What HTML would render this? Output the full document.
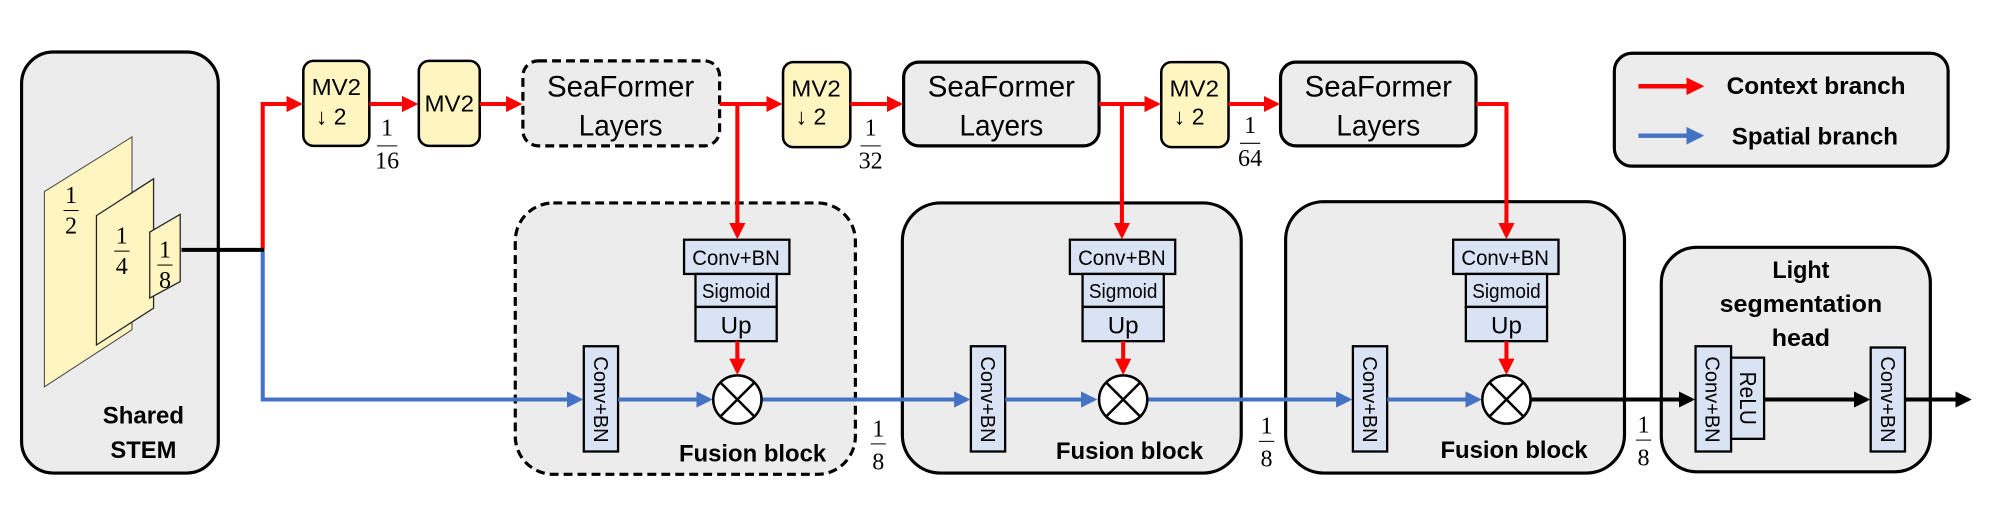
<!DOCTYPE html>
<html><head><meta charset="utf-8"><style>
html,body{margin:0;padding:0;background:#fff;width:1990px;height:520px;overflow:hidden}
svg{display:block}
.c{font-family:"Liberation Sans",sans-serif}
.s{font-family:"Liberation Serif",serif;font-size:19px}
.b{font-weight:bold}
</style></head><body>
<svg width="1990" height="520" viewBox="0 0 1568 410" preserveAspectRatio="none" xmlns="http://www.w3.org/2000/svg">
<defs>
<marker id="ar" markerWidth="4" markerHeight="4" refX="3.2" refY="2" orient="auto" markerUnits="strokeWidth"><path d="M0,0 L4,2 L0,4 z" fill="#ff0000"/></marker>
<marker id="ab" markerWidth="4" markerHeight="4" refX="3.2" refY="2" orient="auto" markerUnits="strokeWidth"><path d="M0,0 L4,2 L0,4 z" fill="#4472c4"/></marker>
<marker id="ak" markerWidth="4" markerHeight="4" refX="3.2" refY="2" orient="auto" markerUnits="strokeWidth"><path d="M0,0 L4,2 L0,4 z" fill="#000"/></marker>
</defs>

<rect x="17" y="41" width="155" height="332" rx="25" fill="#ececec" stroke="#000" stroke-width="2.5"/>
<polygon points="35,151 104,108 104,260 35,305" fill="#fff5c0" stroke="#444" stroke-width="0.8"/>
<polygon points="76,170 121,141 121,243 76,272" fill="#fff5c0" stroke="#222" stroke-width="1"/>
<polygon points="118,183 142,169 142,222 118,235" fill="#fff5c0" stroke="#222" stroke-width="1"/>
<g class="s" text-anchor="middle">
<text x="56" y="160">1</text><line x1="50" y1="166" x2="62" y2="166" stroke="#000" stroke-width="0.8"/><text x="56" y="184">2</text>
<text x="96" y="192">1</text><line x1="90" y1="198" x2="102" y2="198" stroke="#000" stroke-width="0.8"/><text x="96" y="216">4</text>
<text x="130" y="203">1</text><line x1="124" y1="209" x2="136" y2="209" stroke="#000" stroke-width="0.8"/><text x="130" y="227">8</text>
</g>
<text class="c b" x="113" y="334" font-size="19" text-anchor="middle" textLength="64" lengthAdjust="spacingAndGlyphs">Shared</text>
<text class="c b" x="113" y="361" font-size="19" text-anchor="middle" textLength="52" lengthAdjust="spacingAndGlyphs">STEM</text>

<rect x="1272" y="42" width="263" height="89" rx="14" fill="#ececec" stroke="#000" stroke-width="2.5"/>
<line x1="1291" y1="68" x2="1340" y2="68" stroke="#ff0000" stroke-width="3.5" marker-end="url(#ar)"/>
<line x1="1291" y1="107" x2="1340" y2="107" stroke="#4472c4" stroke-width="3.5" marker-end="url(#ab)"/>
<text class="c b" x="1431" y="74" font-size="19" text-anchor="middle" textLength="141" lengthAdjust="spacingAndGlyphs">Context branch</text>
<text class="c b" x="1430" y="114" font-size="19" text-anchor="middle" textLength="131" lengthAdjust="spacingAndGlyphs">Spatial branch</text>

<rect x="406" y="160" width="268" height="214" rx="30" fill="#ececec" stroke="#000" stroke-width="2.5" stroke-dasharray="7,4"/>
<rect x="711" y="160" width="267" height="213" rx="30" fill="#ececec" stroke="#000" stroke-width="2.5"/>
<rect x="1013" y="159" width="267" height="214" rx="30" fill="#ececec" stroke="#000" stroke-width="2.5"/>
<rect x="1309" y="195" width="212" height="177" rx="28" fill="#ececec" stroke="#000" stroke-width="2.5"/>

<g stroke="#000" stroke-width="2">
<rect x="239" y="48" width="52" height="67" rx="8" fill="#fff5c0"/>
<rect x="330" y="48" width="48" height="67" rx="8" fill="#fff5c0"/>
<rect x="617" y="49" width="53" height="67" rx="8" fill="#fff5c0"/>
<rect x="915" y="49" width="53" height="67" rx="8" fill="#fff5c0"/>
<rect x="412" y="48" width="155" height="67" rx="12" fill="#ececec" stroke-dasharray="7,4" stroke-width="2.5"/>
<rect x="712" y="49" width="154" height="66" rx="12" fill="#ececec" stroke-width="2.5"/>
<rect x="1009" y="49" width="154" height="66" rx="12" fill="#ececec" stroke-width="2.5"/>
</g>
<g class="c" font-size="18" text-anchor="middle">
<text x="265" y="75" textLength="39" lengthAdjust="spacingAndGlyphs">MV2</text><text x="261" y="98">↓ 2</text>
<text x="354" y="88" textLength="39" lengthAdjust="spacingAndGlyphs">MV2</text>
<text x="643" y="76" textLength="39" lengthAdjust="spacingAndGlyphs">MV2</text><text x="639" y="98">↓ 2</text>
<text x="941" y="76" textLength="39" lengthAdjust="spacingAndGlyphs">MV2</text><text x="937" y="98">↓ 2</text>
</g>
<g class="c" font-size="23" text-anchor="middle">
<text x="489" y="76" textLength="116" lengthAdjust="spacingAndGlyphs">SeaFormer</text><text x="489" y="107" textLength="66" lengthAdjust="spacingAndGlyphs">Layers</text>
<text x="789" y="76" textLength="116" lengthAdjust="spacingAndGlyphs">SeaFormer</text><text x="789" y="107" textLength="66" lengthAdjust="spacingAndGlyphs">Layers</text>
<text x="1086" y="76" textLength="116" lengthAdjust="spacingAndGlyphs">SeaFormer</text><text x="1086" y="107" textLength="66" lengthAdjust="spacingAndGlyphs">Layers</text>
</g>
<g class="s" text-anchor="middle" font-size="17">
<text x="305" y="107">1</text><line x1="297" y1="115" x2="313" y2="115" stroke="#000" stroke-width="0.8"/><text x="305" y="133">16</text>
<text x="686" y="107">1</text><line x1="678" y1="115" x2="694" y2="115" stroke="#000" stroke-width="0.8"/><text x="686" y="133">32</text>
<text x="985" y="105">1</text><line x1="977" y1="113" x2="993" y2="113" stroke="#000" stroke-width="0.8"/><text x="985" y="131">64</text>
<text x="692" y="344">1</text><line x1="686" y1="350" x2="698" y2="350" stroke="#000" stroke-width="0.8"/><text x="692" y="370">8</text>
<text x="998" y="342">1</text><line x1="992" y1="348" x2="1004" y2="348" stroke="#000" stroke-width="0.8"/><text x="998" y="368">8</text>
<text x="1295" y="341">1</text><line x1="1289" y1="347" x2="1301" y2="347" stroke="#000" stroke-width="0.8"/><text x="1295" y="367">8</text>
</g>

<g stroke="#000" stroke-width="1.8" fill="#dae3f3">
<rect x="539" y="189" width="83" height="27"/><rect x="548" y="216" width="64" height="26"/><rect x="548" y="242" width="64" height="27"/>
<rect x="843" y="189" width="83" height="27"/><rect x="853" y="216" width="64" height="26"/><rect x="853" y="242" width="64" height="27"/>
<rect x="1145" y="189" width="83" height="27"/><rect x="1155" y="216" width="64" height="26"/><rect x="1155" y="242" width="64" height="27"/>
<rect x="460" y="273" width="27" height="83"/>
<rect x="765" y="273" width="27" height="83"/>
<rect x="1066" y="273" width="27" height="83"/>
<rect x="1336" y="273" width="28" height="83"/>
<rect x="1364" y="282" width="26" height="64"/>
<rect x="1474" y="274" width="27" height="82"/>
</g>
<g class="c" text-anchor="middle">
<text x="580" y="209" font-size="17" textLength="69" lengthAdjust="spacingAndGlyphs">Conv+BN</text><text x="580" y="235" font-size="16" textLength="54" lengthAdjust="spacingAndGlyphs">Sigmoid</text><text x="580" y="263" font-size="19">Up</text>
<text x="884" y="209" font-size="17" textLength="69" lengthAdjust="spacingAndGlyphs">Conv+BN</text><text x="885" y="235" font-size="16" textLength="54" lengthAdjust="spacingAndGlyphs">Sigmoid</text><text x="885" y="263" font-size="19">Up</text>
<text x="1186" y="209" font-size="17" textLength="69" lengthAdjust="spacingAndGlyphs">Conv+BN</text><text x="1187" y="235" font-size="16" textLength="54" lengthAdjust="spacingAndGlyphs">Sigmoid</text><text x="1187" y="263" font-size="19">Up</text>
</g>
<g class="c" font-size="16" text-anchor="middle">
<text transform="translate(468,315) rotate(90)" textLength="68" lengthAdjust="spacingAndGlyphs">Conv+BN</text>
<text transform="translate(773,315) rotate(90)" textLength="68" lengthAdjust="spacingAndGlyphs">Conv+BN</text>
<text transform="translate(1074,315) rotate(90)" textLength="68" lengthAdjust="spacingAndGlyphs">Conv+BN</text>
<text transform="translate(1344,315) rotate(90)" textLength="68" lengthAdjust="spacingAndGlyphs">Conv+BN</text>
<text transform="translate(1371,314) rotate(90)" font-size="18" textLength="42" lengthAdjust="spacingAndGlyphs">ReLU</text>
<text transform="translate(1482,315) rotate(90)" textLength="68" lengthAdjust="spacingAndGlyphs">Conv+BN</text>
</g>
<g class="c b" font-size="19" text-anchor="middle">
<text x="593" y="364" textLength="116" lengthAdjust="spacingAndGlyphs">Fusion block</text>
<text x="890" y="362" textLength="116" lengthAdjust="spacingAndGlyphs">Fusion block</text>
<text x="1193" y="361" textLength="116" lengthAdjust="spacingAndGlyphs">Fusion block</text>
<text x="1419" y="219" textLength="45" lengthAdjust="spacingAndGlyphs">Light</text><text x="1419" y="246" textLength="128" lengthAdjust="spacingAndGlyphs">segmentation</text><text x="1419" y="273" textLength="46" lengthAdjust="spacingAndGlyphs">head</text>
</g>

<g fill="none" stroke="#ff0000" stroke-width="3.2">
<polyline points="207,197 207,82 236,82" marker-end="url(#ar)"/>
<line x1="291" y1="82" x2="327" y2="82" marker-end="url(#ar)"/>
<line x1="378" y1="82" x2="409" y2="82" marker-end="url(#ar)"/>
<line x1="567" y1="82" x2="614" y2="82" marker-end="url(#ar)"/>
<line x1="581" y1="82" x2="581" y2="186" marker-end="url(#ar)"/>
<line x1="670" y1="82" x2="709" y2="82" marker-end="url(#ar)"/>
<line x1="866" y1="82" x2="912" y2="82" marker-end="url(#ar)"/>
<line x1="884" y1="82" x2="884" y2="186" marker-end="url(#ar)"/>
<line x1="968" y1="82" x2="1006" y2="82" marker-end="url(#ar)"/>
<polyline points="1163,82 1187,82 1187,186" marker-end="url(#ar)"/>
<line x1="581" y1="269" x2="581" y2="293" marker-end="url(#ar)"/>
<line x1="885" y1="269" x2="885" y2="293" marker-end="url(#ar)"/>
<line x1="1187" y1="269" x2="1187" y2="293" marker-end="url(#ar)"/>
</g>
<g fill="none" stroke="#4472c4" stroke-width="3.2">
<polyline points="207,197 207,315 457,315" marker-end="url(#ab)"/>
<line x1="487" y1="315" x2="559" y2="315" marker-end="url(#ab)"/>
<line x1="600" y1="315" x2="762" y2="315" marker-end="url(#ab)"/>
<line x1="792" y1="315" x2="862" y2="315" marker-end="url(#ab)"/>
<line x1="904" y1="315" x2="1063" y2="315" marker-end="url(#ab)"/>
<line x1="1093" y1="315" x2="1165" y2="315" marker-end="url(#ab)"/>
</g>
<g fill="none" stroke="#000" stroke-width="3.2">
<line x1="143" y1="197" x2="208" y2="197"/>
<line x1="1206" y1="315" x2="1333" y2="315" marker-end="url(#ak)"/>
<line x1="1390" y1="315" x2="1471" y2="315" marker-end="url(#ak)"/>
<line x1="1501" y1="315" x2="1551" y2="315" marker-end="url(#ak)"/>
</g>
<g fill="#fff" stroke="#000" stroke-width="2">
<circle cx="581" cy="315" r="19"/><path d="M567.6,301.6 L594.4,328.4 M594.4,301.6 L567.6,328.4"/>
<circle cx="885" cy="315" r="19"/><path d="M871.6,301.6 L898.4,328.4 M898.4,301.6 L871.6,328.4"/>
<circle cx="1187" cy="315" r="19"/><path d="M1173.6,301.6 L1200.4,328.4 M1200.4,301.6 L1173.6,328.4"/>
</g>
</svg>
</body></html>
